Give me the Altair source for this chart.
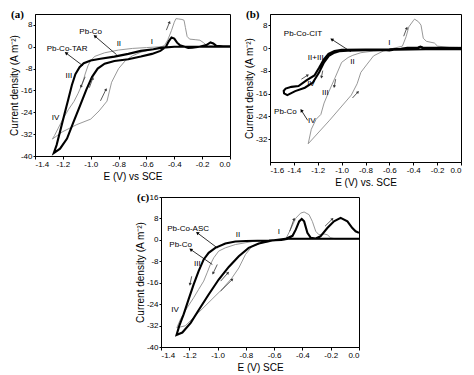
import math
import altair as alt
import pandas as pd

FONT = "Liberation Sans"

# ---------------- Panel (a) : Pb-Co vs Pb-Co-TAR ----------------
a_tar_E = [0.0, -0.2, -0.4, -0.5, -0.55, -0.64, -0.73, -0.83, -0.93, -1.0, -1.05, -1.08, -1.11, -1.135,
           -1.16, -1.19, -1.22, -1.245, -1.265,
           -1.22, -1.17, -1.124, -1.078, -1.032, -0.99, -0.95, -0.9, -0.83, -0.73, -0.64, -0.56, -0.5,
           -0.46, -0.44, -0.42, -0.40, -0.38, -0.36, -0.33, -0.3, -0.27, -0.22, -0.17, -0.14, -0.12,
           -0.1, -0.05, 0.0]
a_tar_j = [0.0, 0.0, 0.0, -0.4, -0.9, -1.5, -2.6, -3.6, -4.4, -5.0, -6.0, -7.5, -10.0, -14.0,
           -19.0, -25.0, -31.0, -36.0, -38.9,
           -37.3, -33.6, -27.6, -21.7, -15.8, -11.0, -8.0, -6.2, -5.2, -4.6, -3.6, -2.6, -1.5,
           0.0, 2.0, 3.4, 3.0, 1.5, 0.6, 0.1, -0.4, -0.3, 0.0, 0.6, 1.6, 1.2,
           0.4, 0.2, 0.2]
a_co_E = [0.0, -0.3, -0.45, -0.5, -0.6, -0.7, -0.8, -0.9, -0.97, -1.0, -1.02, -1.04, -1.06, -1.09,
          -1.12, -1.16, -1.2, -1.235, -1.26, -1.275,
          -1.205, -1.1, -1.0, -0.94, -0.883, -0.85, -0.8, -0.75, -0.7, -0.64, -0.58, -0.52, -0.47,
          -0.446, -0.42, -0.4, -0.388, -0.37, -0.345, -0.33, -0.32, -0.308, -0.29, -0.25, -0.216,
          -0.19, -0.17, -0.1, 0.0]
a_co_j = [0.1, 0.1, 0.0, 0.0, -0.3, -0.6, -1.2, -2.2, -3.5, -5.0, -7.0, -10.0, -13.5, -17.0,
          -20.0, -23.0, -26.5, -30.0, -32.5, -33.8,
          -31.2, -28.5, -26.5, -23.5, -19.9, -13.0, -8.0, -5.0, -3.3, -2.0, -1.2, -0.6, 0.5,
          2.6, 6.0, 9.0, 10.3, 10.2, 10.0, 9.7, 7.0, 3.8, 2.8, 2.6, 2.4,
          1.5, 0.6, 0.3, 0.1]
a_lbl_text = ["Pb-Co", "Pb-Co-TAR", "I", "II", "III", "IV"]
a_lbl_E = [-1.0, -1.17, -0.561, -0.798, -1.157, -1.253]
a_lbl_j = [5.5, -0.85, 1.9, 1.1, -10.6, -26.1]
a_ptr_E1 = [-0.814, -1.055]
a_ptr_j1 = [-2.9, -7.0]
a_ptr_E2 = [-0.97, -1.177]
a_ptr_j2 = [3.9, -2.3]
a_dir_E1 = [-1.04, -1.01, -0.93, -0.457]
a_dir_j1 = [-11.0, -15.0, -19.8, 6.1]
a_dir_E2 = [-1.07, -0.985, -0.89, -0.434]
a_dir_j2 = [-14.6, -11.5, -15.6, 9.0]
a_xticks = [-1.4, -1.2, -1.0, -0.8, -0.6, -0.4, -0.2, 0.0]
a_yticks = [8, 0, -8, -16, -24, -32, -40]

# ---------------- Panel (b) : Pb-Co vs Pb-Co-CIT ----------------
b_cit_E = [0.0, -0.3, -0.55, -0.6, -0.65, -0.8, -0.95, -1.02, -1.06, -1.107, -1.147, -1.188, -1.241,
           -1.308, -1.389, -1.455, -1.482, -1.485,
           -1.469, -1.42, -1.361, -1.295, -1.228, -1.19, -1.15, -1.11, -1.06, -1.0, -0.8, -0.6, -0.5,
           -0.45, -0.36, -0.34, -0.32, -0.2, 0.0]
b_cit_j = [-0.4, -0.4, -0.5, -0.8, -0.6, -0.7, -0.9, -1.1, -1.6, -2.7, -5.0, -8.5, -12.1,
           -13.9, -15.1, -16.5, -15.9, -15.0,
           -14.2, -13.6, -13.3, -11.3, -9.6, -7.0, -4.0, -2.0, -1.0, -0.6, -0.5, -0.4, -0.2,
           0.1, 0.2, 0.5, 0.2, 0.1, 0.0]
b_co_E = [0.0, -0.3, -0.5, -0.571, -0.65, -0.732, -0.839, -0.906, -0.946, -1.0, -1.053, -1.107, -1.147,
          -1.174, -1.214, -1.254, -1.28,
          -1.1, -0.919, -0.87, -0.839, -0.786, -0.732, -0.651, -0.571, -0.491, -0.46, -0.437, -0.397,
          -0.389, -0.357, -0.335, -0.316, -0.29, -0.223, -0.196, -0.1, 0.0]
b_co_j = [0.3, 0.2, 0.0, -0.46, -0.7, -1.0, -1.6, -2.5, -3.3, -5.0, -10.2, -15.3, -19.3,
          -23.3, -25.0, -28.5, -33.6,
          -25.3, -16.5, -12.5, -8.5, -5.6, -2.7, -1.0, -0.1, 0.7, 4.0, 7.5, 9.8,
          10.2, 9.3, 8.1, 3.5, 2.4, 1.8, 0.7, 0.3, 0.3]
b_lbl_text = ["Pb-Co-CIT", "I", "II+III", "II", "IV", "III", "Pb-Co", "IV"]
b_lbl_E = [-1.324, -0.601, -1.217, -0.909, -1.257, -1.136, -1.471, -1.249]
b_lbl_j = [4.8, 1.9, -3.5, -4.9, -12.7, -15.8, -22.3, -25.5]
b_ptr_E1 = [-0.922, -1.284]
b_ptr_j1 = [-1.26, -25.4]
b_ptr_E2 = [-1.083, -1.337]
b_ptr_j2 = [3.1, -21.9]
b_dir_E1 = [-1.337, -1.158, -1.05, -0.909, -0.48]
b_dir_j1 = [-10.9, -7.9, -10.9, -17.5, 4.2]
b_dir_E2 = [-1.284, -1.169, -1.062, -0.863, -0.454]
b_dir_j2 = [-9.5, -10.2, -13.5, -15.4, 7.1]
b_xticks = [-1.6, -1.4, -1.2, -1.0, -0.8, -0.6, -0.4, -0.2, 0.0]
b_yticks = [8, 0, -8, -16, -24, -32]

# ---------------- Panel (c) : Pb-Co vs Pb-Co-ASC ----------------
c_asc_E = [0.0, -0.3, -0.5, -0.55, -0.636, -0.8, -0.874, -0.945, -1.016, -1.063, -1.098, -1.134, -1.169,
           -1.205, -1.24, -1.271, -1.29,
           -1.249, -1.19, -1.131, -1.063, -0.992, -0.921, -0.85, -0.78, -0.709, -0.615, -0.52, -0.47,
           -0.447, -0.423, -0.405, -0.388, -0.365, -0.341, -0.306, -0.271, -0.224, -0.177, -0.13,
           -0.082, -0.047, -0.024, 0.0]
c_asc_j = [0.4, 0.4, 0.4, 0.0, -0.26, -0.4, -0.63, -1.37, -2.98, -4.85, -7.3, -11.7, -16.6,
           -22.2, -27.8, -32.1, -35.5,
           -34.6, -31.0, -26.0, -20.4, -14.8, -10.1, -6.1, -3.0, -1.37, -0.26, 0.37, 1.5,
           3.8, 6.9, 7.8, 6.9, 2.6, 0.74, 0.5, 1.37, 4.4, 6.9, 8.2,
           6.9, 4.4, 3.2, 2.6]
c_co_E = [0.0, -0.5, -0.6, -0.75, -0.874, -0.945, -0.992, -1.027, -1.051, -1.074, -1.098, -1.134, -1.169,
          -1.216, -1.263, -1.288,
          -1.228, -1.134, -1.04, -0.969, -0.898, -0.85, -0.803, -0.756, -0.685, -0.591, -0.52, -0.485,
          -0.447, -0.412, -0.388, -0.353, -0.33, -0.306, -0.283, -0.247, -0.224, -0.2, -0.165, 0.0]
c_co_j = [0.4, 0.3, -0.1, -0.6, -1.74, -2.98, -4.2, -6.7, -9.2, -12.3, -15.4, -18.5, -21.6,
          -25.4, -29.7, -32.8,
          -32.1, -27.1, -22.2, -18.5, -14.2, -10.5, -5.5, -2.4, -1.1, -0.26, 0.1, 3.8,
          8.1, 10.0, 10.4, 9.4, 6.9, 3.2, 1.9, 2.2, 1.9, 0.74, 0.37, 0.4]
c_lbl_text = ["Pb-Co-ASC", "Pb-Co", "II", "I", "III", "IV"]
c_lbl_E = [-1.208, -1.261, -0.855, -0.566, -1.143, -1.301]
c_lbl_j = [4.2, -2.0, 2.0, 3.0, -8.9, -26.2]
c_ptr_E1 = [-1.002, -1.037]
c_ptr_j1 = [-3.0, -9.2]
c_ptr_E2 = [-1.143, -1.19]
c_ptr_j2 = [2.6, -3.6]
c_dir_E1 = [-1.183, -1.002, -0.978, -0.978, -0.49, -0.24]
c_dir_j1 = [-13.6, -9.2, -15.4, -19.1, 3.2, 5.1]
c_dir_E2 = [-1.195, -1.032, -0.926, -0.896, -0.459, -0.188]
c_dir_j2 = [-16.6, -12.5, -12.3, -14.8, 7.8, 7.8]
c_xticks = [-1.4, -1.2, -1.0, -0.8, -0.6, -0.4, -0.2, 0.0]
c_yticks = [16, 8, 0, -8, -16, -24, -32, -40]

YTITLE = "Current density (A m\u207b\u00b2)"
MINUS_FIX = "replace(datum.label, '\u2212', '-')"


def seg_df(E1, j1, E2, j2, sx, sy):
    ang = [(math.degrees(math.atan2((e2 - e1) * sx, (k2 - k1) * sy)) + 360) % 360
           for e1, k1, e2, k2 in zip(E1, j1, E2, j2)]
    return pd.DataFrame({"E1": E1, "j1": j1, "E2": E2, "j2": j2, "ang": ang})


def panel(letter, thickE, thickj, grayE, grayj, lblT, lblE, lblj,
          pE1, pj1, pE2, pj2, dE1, dj1, dE2, dj2,
          xdom, ydom, xticks, yticks, xtitle, w, h):
    xs = alt.Scale(domain=xdom, nice=False, zero=False)
    ys = alt.Scale(domain=ydom, nice=False, zero=False)
    xax = alt.Axis(values=xticks, format=".1f", labelExpr=MINUS_FIX, title=xtitle, grid=False)
    yax = alt.Axis(values=yticks, format="d", labelExpr=MINUS_FIX, title=YTITLE, grid=False)
    sx = w / (xdom[1] - xdom[0])
    sy = h / (ydom[1] - ydom[0])

    def X(f):
        return alt.X(f, scale=xs, axis=xax)

    def Y(f):
        return alt.Y(f, scale=ys, axis=yax)

    gdf = pd.DataFrame({"E": grayE, "j": grayj, "i": list(range(len(grayE)))})
    tdf = pd.DataFrame({"E": thickE, "j": thickj, "i": list(range(len(thickE)))})
    ldf = pd.DataFrame({"E": lblE, "j": lblj, "t": lblT})
    pdf = seg_df(pE1, pj1, pE2, pj2, sx, sy)
    ddf = seg_df(dE1, dj1, dE2, dj2, sx, sy)

    gray = alt.Chart(gdf).mark_line(color="#8c8c8c", strokeWidth=0.9).encode(
        x=X("E:Q"), y=Y("j:Q"), order="i:Q")
    thick = alt.Chart(tdf).mark_line(color="black", strokeWidth=2.1).encode(
        x=X("E:Q"), y=Y("j:Q"), order="i:Q")
    labels = alt.Chart(ldf).mark_text(font=FONT, fontSize=8, color="black").encode(
        x=X("E:Q"), y=Y("j:Q"), text="t:N")
    ptr = alt.Chart(pdf).mark_rule(color="black", strokeWidth=0.8).encode(
        x=X("E1:Q"), y=Y("j1:Q"), x2="E2:Q", y2="j2:Q")
    ptr_head = alt.Chart(pdf).mark_point(shape="triangle-up", filled=True, size=14,
                                         color="black", opacity=1).encode(
        x=X("E2:Q"), y=Y("j2:Q"), angle=alt.Angle("ang:Q", scale=None))
    dr = alt.Chart(ddf).mark_rule(color="#333333", strokeWidth=0.8).encode(
        x=X("E1:Q"), y=Y("j1:Q"), x2="E2:Q", y2="j2:Q")
    dr_head = alt.Chart(ddf).mark_point(shape="triangle-up", filled=True, size=10,
                                        color="#333333", opacity=1).encode(
        x=X("E2:Q"), y=Y("j2:Q"), angle=alt.Angle("ang:Q", scale=None))
    tag = alt.Chart(pd.DataFrame({"t": [letter]})).mark_text(
        font="Liberation Serif", fontSize=11, fontWeight="bold", align="left",
        baseline="middle", color="black").encode(
        x=alt.value(-24), y=alt.value(1), text="t:N")
    return alt.layer(gray, thick, ptr, ptr_head, dr, dr_head, labels, tag).properties(
        width=w, height=h)


pa = panel("(a)", a_tar_E, a_tar_j, a_co_E, a_co_j, a_lbl_text, a_lbl_E, a_lbl_j,
           a_ptr_E1, a_ptr_j1, a_ptr_E2, a_ptr_j2, a_dir_E1, a_dir_j1, a_dir_E2, a_dir_j2,
           [-1.4, 0.0], [-40, 12], a_xticks, a_yticks, "E (V) vs SCE", 195, 142)
pb = panel("(b)", b_cit_E, b_cit_j, b_co_E, b_co_j, b_lbl_text, b_lbl_E, b_lbl_j,
           b_ptr_E1, b_ptr_j1, b_ptr_E2, b_ptr_j2, b_dir_E1, b_dir_j1, b_dir_E2, b_dir_j2,
           [-1.6, 0.0], [-40, 12], b_xticks, b_yticks, "E (V) vs. SCE", 191, 148)
pc = panel("(c)", c_asc_E, c_asc_j, c_co_E, c_co_j, c_lbl_text, c_lbl_E, c_lbl_j,
           c_ptr_E1, c_ptr_j1, c_ptr_E2, c_ptr_j2, c_dir_E1, c_dir_j1, c_dir_E2, c_dir_j2,
           [-1.4, 0.0], [-40, 16], c_xticks, c_yticks, "E (V) SCE", 198, 150)

spacer = alt.Chart(pd.DataFrame({"v": [0]})).mark_point(opacity=0).encode(
    x=alt.X("v:Q", axis=None), y=alt.Y("v:Q", axis=None)).properties(
    width=1, height=1, view=alt.ViewBackground(strokeOpacity=0))

top = alt.hconcat(pa, pb, spacing=8)
bottom = alt.hconcat(spacer, pc, spacing=95)

chart = alt.vconcat(top, bottom, spacing=3).properties(
    padding={"left": 0, "top": 0, "right": 0, "bottom": 0}
).configure_view(stroke="black", strokeWidth=1).configure_axis(
    labelFont=FONT, labelFontSize=8, labelColor="black", titleFont=FONT, titleFontSize=10,
    titleFontWeight="normal", titleColor="black", tickSize=2, tickColor="black",
    domainColor="black", labelPadding=1, grid=False
).configure_axisX(titlePadding=3, tickSize=3).configure_axisY(titlePadding=1)

chart.save("out.html", embed_options={"renderer": "svg", "actions": False})
